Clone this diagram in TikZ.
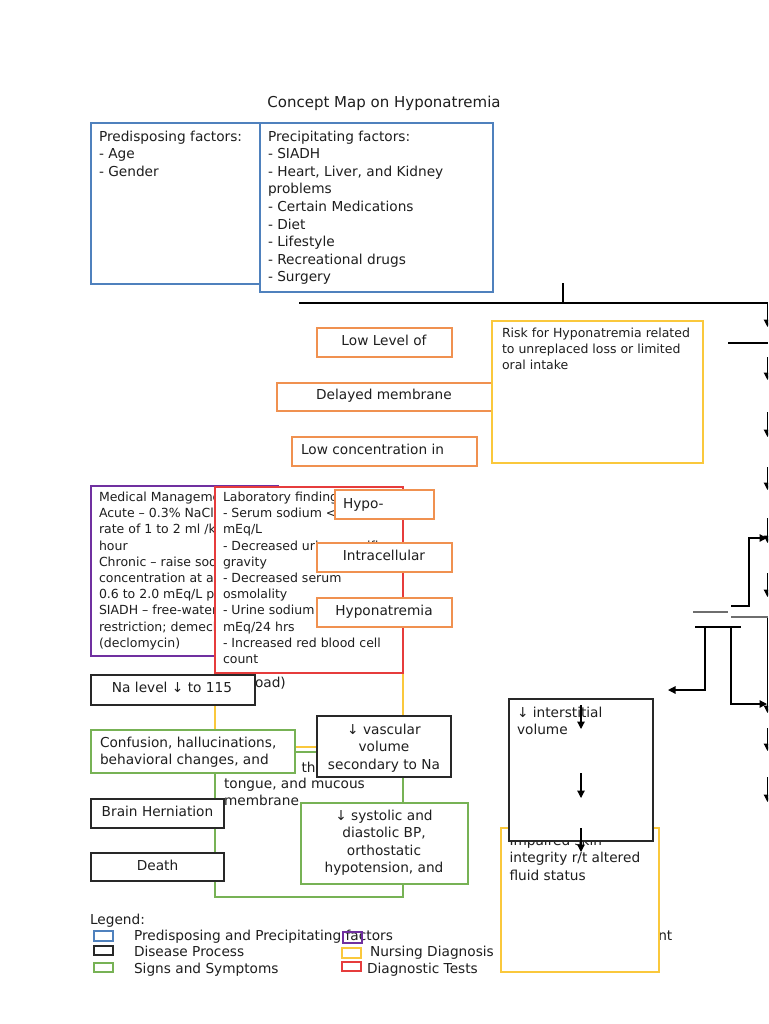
\documentclass[tikz,border=0pt]{standalone}
\usepackage{fontspec}
\setmainfont{DejaVu Sans}
\usetikzlibrary{arrows.meta}
\definecolor{cblue}{RGB}{79,129,189}
\definecolor{cgreen}{RGB}{119,178,85}
\definecolor{corange}{RGB}{240,145,80}
\definecolor{cyellow}{RGB}{250,200,60}
\definecolor{cred}{RGB}{230,60,60}
\definecolor{cpurple}{RGB}{112,48,160}
\definecolor{cblack}{RGB}{40,40,40}
\definecolor{ctext}{RGB}{30,30,30}
\definecolor{cgray}{RGB}{110,110,110}
\newcommand\fmain{\fontsize{13.7}{17.6}\selectfont}
\newcommand\fsm{\fontsize{12.5}{16.2}\selectfont}
\newcommand\ftitle{\fontsize{15}{18}\selectfont}
\newcommand\bx[6]{\node[fill=white, anchor=north west, inner sep=0pt, outer sep=0pt,
  minimum width=#5pt-#3pt, minimum height=#6pt-#4pt, #2] (#1) at (#3,#4) {};}
\begin{document}
\begin{tikzpicture}[x=1pt,y=-1pt,
  bluebox/.style={draw=cblue, line width=1.4pt},
  greenbox/.style={draw=cgreen, line width=1.4pt},
  orangebox/.style={draw=corange, line width=1.4pt},
  yellowbox/.style={draw=cyellow, line width=1.4pt},
  redbox/.style={draw=cred, line width=1.4pt},
  purplebox/.style={draw=cpurple, line width=1.4pt},
  blackbox/.style={draw=cblack, line width=1.5pt},
  tx/.style={anchor=north west, inner sep=0pt, outer sep=0pt, align=left, font=\fmain, text=ctext},
  txs/.style={tx, font=\fsm},
  txc/.style={anchor=north, inner sep=0pt, outer sep=0pt, align=center, font=\fmain, text=ctext},
  one/.style={anchor=base, inner sep=0pt, outer sep=0pt, font=\fmain, text=ctext},
  onew/.style={anchor=base west, inner sep=0pt, outer sep=0pt, font=\fmain, text=ctext},
  ln/.style={draw=black, line width=1.2pt},
  gln/.style={draw=cgray, line width=1.4pt},
  arr/.style={ln, -{Triangle[length=7.5pt,width=7.5pt]}}]
\useasboundingbox (0,0) rectangle (768,1024);
\clip (0,0) rectangle (768,1024);
\fill[white] (0,0) rectangle (768,1024);

% title
\node[one, font=\ftitle] (title) at (384,108) {Concept Map on Hyponatremia};

% factors
\bx{pre}{bluebox}{91}{123}{262}{284}
\node[tx] (pret) at (99,128.7) {\strut Predisposing factors:\\- Age\\- Gender};
\bx{prc}{bluebox}{260}{123}{493}{292}
\node[tx] (prct) at (268,128.7) {\strut Precipitating factors:\\- SIADH\\- Heart, Liver, and Kidney\\problems\\- Certain Medications\\- Diet\\- Lifestyle\\- Recreational drugs\\- Surgery};

% top connector
\coordinate (c0) at (563,283);
\coordinate (c1) at (563,303);
\coordinate (c2) at (299,303);
\coordinate (c3) at (767.5,303);
\draw[ln] (c0) -- (c1);
\draw[ln] (c2) -- (c3);

% orange boxes (upper)
\bx{low}{orangebox}{317}{328}{452}{357}
\node[one] (lowt) at (384,345) {Low Level of};
\bx{del}{orangebox}{277}{383}{492}{411}
\node[one] (delt) at (384,399) {Delayed membrane};
\bx{conc}{orangebox}{292}{437}{477}{466}
\node[onew] (conct) at (301,454) {Low concentration in};

% risk
\bx{risk}{yellowbox}{492}{321}{703}{463}
\node[txs] (riskt) at (502,326.2) {\strut Risk for Hyponatremia related\\to unreplaced loss or limited\\oral intake};

% right side arrows
\coordinate (a1s) at (767.5,303); \coordinate (a1e) at (767.5,327);
\coordinate (a2s) at (767.5,357); \coordinate (a2e) at (767.5,380);
\coordinate (a3s) at (767.5,412); \coordinate (a3e) at (767.5,437);
\coordinate (a4s) at (767.5,467); \coordinate (a4e) at (767.5,490);
\coordinate (a5s) at (767.5,518); \coordinate (a5e) at (767.5,543);
\coordinate (a6s) at (767.5,573); \coordinate (a6e) at (767.5,597);
\coordinate (a7s) at (767.5,617); \coordinate (a7e) at (767.5,713);
\coordinate (a8s) at (767.5,728); \coordinate (a8e) at (767.5,751);
\coordinate (a9s) at (767.5,777); \coordinate (a9e) at (767.5,802);
\foreach \i in {1,...,9} {\draw[arr] (a\i s) -- (a\i e);}
\coordinate (h1a) at (728,343); \coordinate (h1b) at (768,343);
\draw[ln] (h1a) -- (h1b);
\coordinate (e1) at (731,606); \coordinate (e2) at (749,606);
\coordinate (e3) at (749,538); \coordinate (e4) at (767,538);
\draw[arr] (e1) -- (e2) -- (e3) -- (e4);
\coordinate (g1a) at (693,612); \coordinate (g1b) at (728,612);
\coordinate (g2a) at (731,617); \coordinate (g2b) at (768,617);
\draw[gln] (g1a) -- (g1b);
\draw[gln] (g2a) -- (g2b);
\coordinate (k1) at (695,627); \coordinate (k2) at (741,627);
\draw[ln] (k1) -- (k2);
\coordinate (l1) at (705,627); \coordinate (l2) at (705,690); \coordinate (l3) at (668,690);
\draw[arr] (l1) -- (l2) -- (l3);
\coordinate (m1) at (731,627); \coordinate (m2) at (731,704); \coordinate (m3) at (767,704);
\draw[arr] (m1) -- (m2) -- (m3);

% medical management / lab
\bx{med}{purplebox}{91}{486}{278}{656}
\node[txs] (medt) at (99,490.2) {\strut Medical Manageme\\Acute -- 0.3\% NaCl\\rate of 1 to 2 ml /kg\\hour\\Chronic -- raise sod\\concentration at a\\0.6 to 2.0 mEq/L pe\\SIADH -- free-water\\restriction; demecl\\(declomycin)};
\bx{yel}{yellowbox}{215}{660}{403}{747}
\bx{lab}{redbox}{215}{487}{403}{673}
\node[txs] (labt) at (223,490.2) {\strut Laboratory findings\\- Serum sodium <\\mEq/L\\- Decreased urine specific\\gravity\\- Decreased serum\\osmolality\\- Urine sodium\\mEq/24 hrs\\- Increased red blood cell\\count};
\bx{hypo}{orangebox}{335}{490}{434}{519}
\node[onew] (hypot) at (343,508) {Hypo-};
\bx{intra}{orangebox}{317}{543}{452}{572}
\node[one] (intrat) at (384,560) {Intracellular};
\bx{hypon}{orangebox}{317}{598}{452}{627}
\node[one] (hypont) at (384,615) {Hyponatremia};

% green big box
\bx{grn}{greenbox}{215}{752}{403}{897}
\node[onew] (grnt1) at (301.5,772) {the};
\node[tx] (grnt2) at (224,776) {\strut tongue, and mucous\\membrane};
\node[onew] (oad) at (255,687) {oad)};

% disease process / signs
\bx{na}{blackbox}{91}{675}{255}{705}
\node[one] (nat) at (172,692) {Na level ↓ to 115};
\bx{conf}{greenbox}{91}{730}{295}{773}
\node[tx] (conft) at (100,734.7) {\strut Confusion, hallucinations,\\behavioral changes, and};
\bx{vasc}{blackbox}{317}{716}{451}{777}
\node[txc] (vasct) at (384,721.7) {\strut ↓ vascular\\volume\\secondary to Na};
\bx{brain}{blackbox}{91}{799}{224}{828}
\node[one] (braint) at (157.5,816) {Brain Herniation};
\bx{death}{blackbox}{91}{853}{224}{881}
\node[one] (deatht) at (157.5,870) {Death};
\bx{sys}{greenbox}{301}{803}{468}{884}
\node[txc] (syst) at (384,807.7) {\strut ↓ systolic and\\diastolic BP,\\orthostatic\\hypotension, and};

% legend
\node[onew] (leg) at (90,924) {Legend:};
\bx{lg1}{bluebox,line width=1.1pt,fill=none}{94}{931}{113}{941}
\bx{lg2}{blackbox,line width=1.1pt,fill=none}{94}{946}{113}{955}
\bx{lg3}{greenbox,line width=1.1pt,fill=none}{94}{963}{113}{972}
\node[onew] (lgt1) at (134,940) {Predisposing and Precipitating factors};
\node[onew] (lgt2) at (134,956.5) {Disease Process};
\node[onew] (lgt3) at (134,973) {Signs and Symptoms};
\bx{lg4}{purplebox,line width=1.1pt,fill=none}{343}{932}{362}{943}
\bx{lg5}{yellowbox,line width=1.1pt,fill=none}{342}{948}{361}{958}
\bx{lg6}{redbox,line width=1.1pt,fill=none}{342}{962}{361}{971}
\node[anchor=base east, inner sep=0pt, font=\fmain, text=ctext] (lgt4) at (672.5,940) {Medical Management};
\node[onew] (lgt5) at (370,956.5) {Nursing Diagnosis};
\node[onew] (lgt6) at (367,973) {Diagnostic Tests};

% impaired skin / interstitial
\bx{imp}{yellowbox}{501}{828}{659}{972}
\node[tx] (impt) at (509.5,832.7) {\strut Impaired skin\\integrity r/t altered\\fluid status};
\bx{inter}{blackbox}{509}{699}{653}{841}
\node[tx] (intert) at (517,704.7) {\strut ↓ interstitial\\volume};
\coordinate (i1s) at (581,705); \coordinate (i1e) at (581,729);
\coordinate (i2s) at (581,773); \coordinate (i2e) at (581,798);
\coordinate (i3s) at (581,828); \coordinate (i3e) at (581,852);
\draw[arr] (i1s) -- (i1e);
\draw[arr] (i2s) -- (i2e);
\draw[arr] (i3s) -- (i3e);
\end{tikzpicture}
\end{document}
